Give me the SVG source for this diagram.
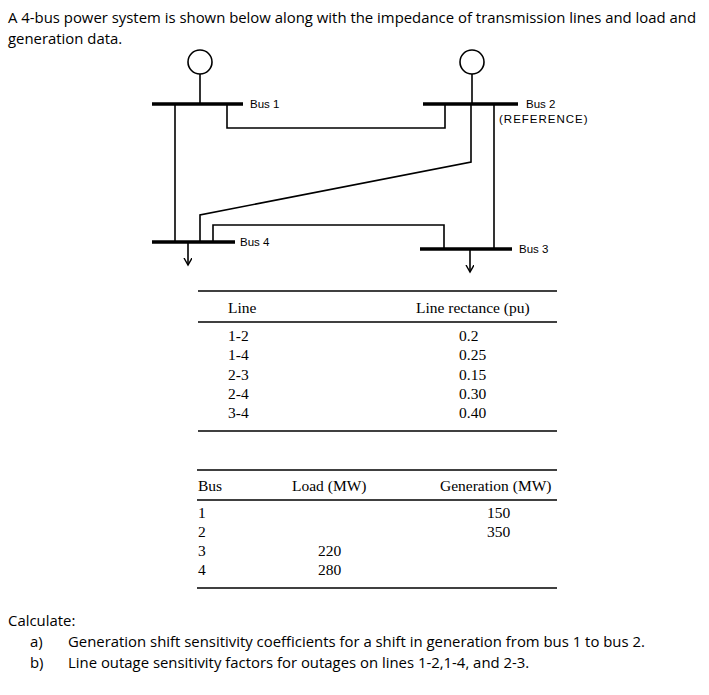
<svg xmlns="http://www.w3.org/2000/svg" width="709" height="695" viewBox="0 0 709 695">
<style>
.t{font-family:"Open Sans","Liberation Sans",sans-serif;font-size:14.9px;fill:#000}
.b{font-family:"Liberation Sans",sans-serif;font-size:11.5px;fill:#000}
.r{font-family:"Liberation Serif",serif;font-size:15.5px;fill:#000}
.bar{stroke:#000;stroke-width:3.5}
.ln{stroke:#000;stroke-width:1.6;fill:none}
.rule{stroke:#000;stroke-width:1.5}
</style>
<defs><marker id="ar" markerWidth="9" markerHeight="9" refX="7" refY="4" orient="auto" markerUnits="userSpaceOnUse"><path d="M0,0 L7,4 L0,8" fill="none" stroke="#000" stroke-width="1.4"/></marker></defs>
<rect width="709" height="695" fill="#fff"/>
<text class="t" x="8" y="23">A 4-bus power system is shown below along with the impedance of transmission lines and load and</text>
<text class="t" x="8" y="44">generation data.</text>
<g id="connectors">
<path class="ln" d="M227,104 V128 H445 V104"/>
<path class="ln" d="M175,104 V242"/>
<path class="ln" d="M471,104 V162 L200,215 V242"/>
<path class="ln" d="M213,242 V225 H444 V249"/>
<path class="ln" d="M494,104 V249"/>
<path class="ln" d="M188,242 V265" marker-end="url(#ar)"/>
<path class="ln" d="M470,249 V272" marker-end="url(#ar)"/>
</g>
<g id="gen1"><circle cx="200" cy="62" r="12" fill="none" stroke="#000" stroke-width="1.6"/><line class="ln" x1="200" y1="74" x2="200" y2="104"/></g>
<g id="gen2"><circle cx="472" cy="62" r="12" fill="none" stroke="#000" stroke-width="1.6"/><line class="ln" x1="472" y1="74" x2="472" y2="104"/></g>
<g id="bus1"><line class="bar" x1="152" y1="104" x2="243" y2="104"/><text class="b" x="250" y="108">Bus 1</text></g>
<g id="bus2"><line class="bar" x1="423" y1="104" x2="518" y2="104"/><text class="b" x="526" y="108">Bus 2</text><text class="b" x="499" y="123" letter-spacing="1">(REFERENCE)</text></g>
<g id="bus4"><line class="bar" x1="152" y1="242" x2="235" y2="242"/><text class="b" x="240" y="246">Bus 4</text></g>
<g id="bus3"><line class="bar" x1="420" y1="249" x2="512" y2="249"/><text class="b" x="519" y="253">Bus 3</text></g>
<g id="table1">
<line class="rule" x1="198" y1="291" x2="557" y2="291"/>
<line class="rule" x1="198" y1="322" x2="557" y2="322"/>
<line class="rule" x1="198" y1="431" x2="557" y2="431"/>
<text class="r" x="228" y="313">Line</text>
<text class="r" x="416" y="313">Line rectance (pu)</text>
<text class="r" x="228" y="341">1-2</text><text class="r" x="459" y="341">0.2</text>
<text class="r" x="228" y="360">1-4</text><text class="r" x="459" y="360">0.25</text>
<text class="r" x="228" y="380">2-3</text><text class="r" x="459" y="380">0.15</text>
<text class="r" x="228" y="399">2-4</text><text class="r" x="459" y="399">0.30</text>
<text class="r" x="228" y="418">3-4</text><text class="r" x="459" y="418">0.40</text>
</g>
<g id="table2">
<line class="rule" x1="197" y1="470" x2="557" y2="470"/>
<line class="rule" x1="197" y1="500" x2="557" y2="500"/>
<line class="rule" x1="197" y1="588" x2="557" y2="588"/>
<text class="r" x="198" y="491">Bus</text>
<text class="r" x="292" y="491">Load (MW)</text>
<text class="r" x="440" y="491">Generation (MW)</text>
<text class="r" x="198" y="518">1</text><text class="r" x="487" y="518">150</text>
<text class="r" x="198" y="537">2</text><text class="r" x="487" y="537">350</text>
<text class="r" x="198" y="556">3</text><text class="r" x="318" y="556">220</text>
<text class="r" x="198" y="575">4</text><text class="r" x="318" y="575">280</text>
</g>
<text class="t" x="8" y="626">Calculate:</text>
<text class="t" x="30" y="647">a)</text><text class="t" x="68" y="647">Generation shift sensitivity coefficients for a shift in generation from bus 1 to bus 2.</text>
<text class="t" x="30" y="668">b)</text><text class="t" x="68" y="668">Line outage sensitivity factors for outages on lines 1-2,1-4, and 2-3.</text>
</svg>
